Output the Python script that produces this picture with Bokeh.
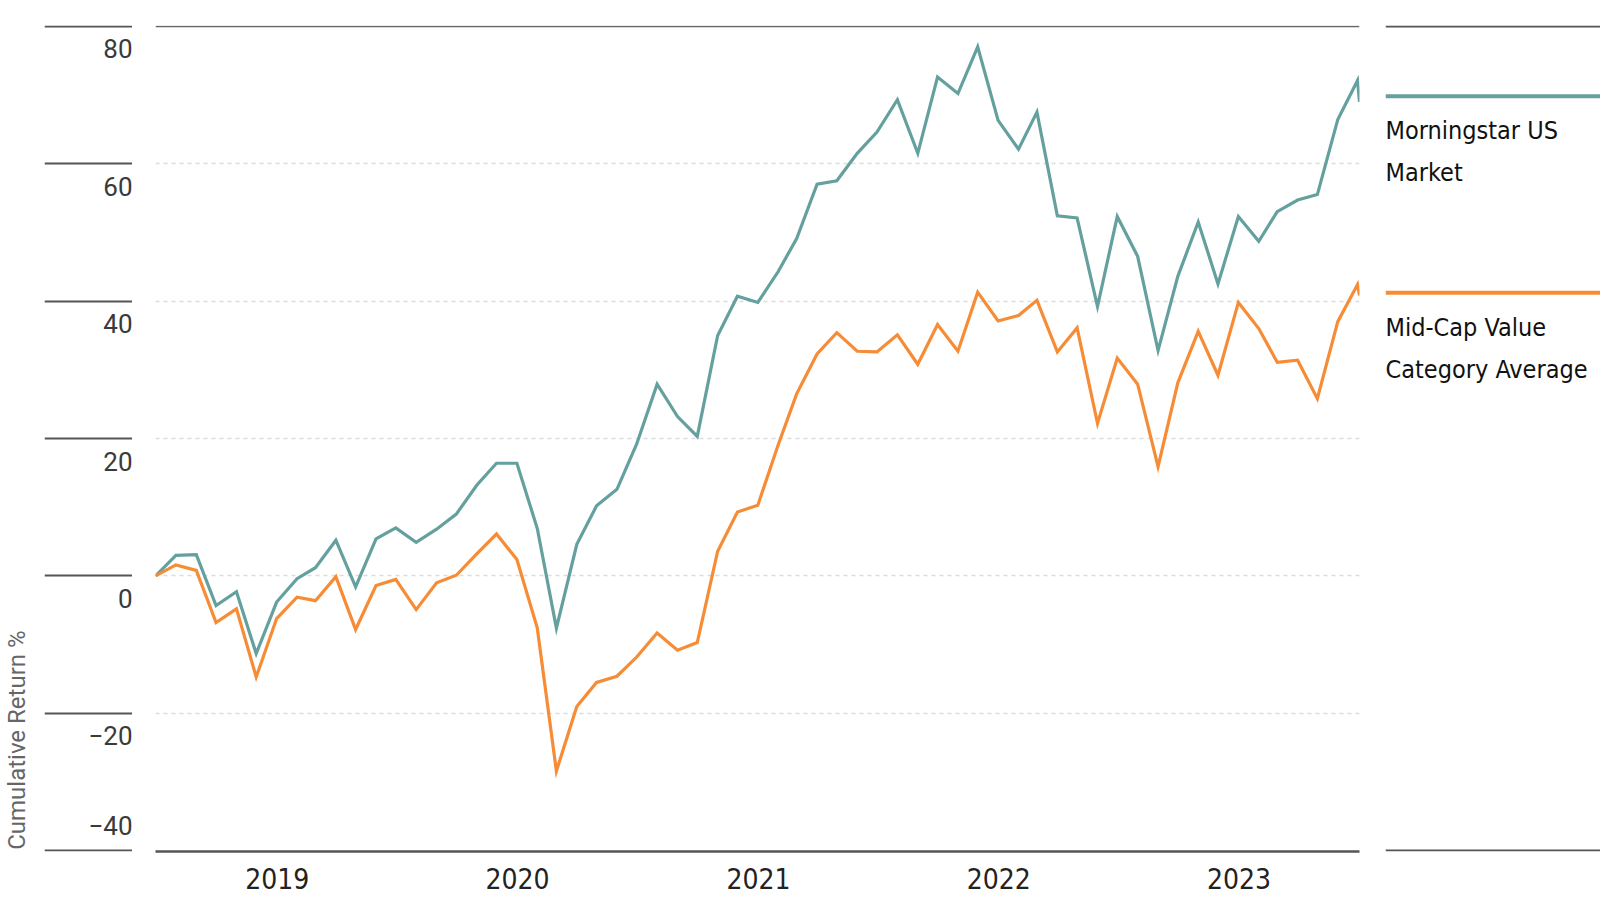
import pandas as pd
from bokeh.plotting import figure
from bokeh.layouts import row
from bokeh.models import Range1d, FixedTicker, Grid, Span, ColumnDataSource, DatetimeTickFormatter
from bokeh.core.properties import value
from bokeh.embed import file_html
from bokeh.resources import INLINE

# ---------------- data ----------------
dates = list(pd.date_range("2018-06-30", periods=61, freq="ME")) + [pd.Timestamp("2023-07-03")]

market = [0.0, 3.0, 3.1, -4.3, -2.3, -11.3, -3.8, -0.4, 1.2, 5.2,
          -1.6, 5.4, 7.0, 4.9, 6.8, 9.0, 13.2, 16.4, 16.4, 6.9,
          -7.6, 4.6, 10.2, 12.6, 19.2, 27.9, 23.2, 20.3, 35.0, 40.7,
          39.8, 44.3, 49.1, 57.0, 57.5, 61.5, 64.6, 69.3, 61.5, 72.6,
          70.2, 77.0, 66.3, 62.1, 67.5, 52.4, 52.1, 39.2, 52.3, 46.5,
          32.8, 43.6, 51.5, 42.5, 52.3, 48.7, 53.0, 54.7, 55.5, 66.4,
          72.1, 69.0]

midcap_value = [0.0, 1.6, 0.8, -6.8, -4.8, -14.7, -6.2, -3.1, -3.6, -0.1,
                -7.8, -1.4, -0.5, -4.9, -1.0, 0.1, 3.2, 6.1, 2.4, -7.6,
                -28.4, -19.0, -15.5, -14.6, -11.8, -8.3, -10.8, -9.7, 3.6, 9.3,
                10.3, 19.1, 26.5, 32.3, 35.4, 32.7, 32.6, 35.1, 30.8, 36.6,
                32.7, 41.3, 37.1, 37.9, 40.1, 32.6, 36.1, 22.2, 31.7, 27.9,
                15.9, 28.1, 35.6, 29.2, 39.8, 36.0, 31.1, 31.4, 25.8, 37.0,
                42.4, 40.8]

series_names = ["Morningstar US\nMarket", "Mid-Cap Value\nCategory Average"]
series_colors = ["#64a09e", "#f68c36"]

y_ticks = [80, 60, 40, 20, 0, -20, -40]
y_tick_labels = ["80", "60", "40", "20", "0", "\u221220", "\u221240"]
x_years = [2019, 2020, 2021, 2022, 2023]
y_title = "Cumulative Return %"

# legend anchor levels (layout)
legend_levels = [69.8, 41.2]

COND_S = "'DejaVu Sans Condensed', 'Roboto', sans-serif"
COND = value(COND_S)
REG = value("Roboto")

yr = Range1d(-40.1, 80.1)
TOP, BOTTOM, FH = 25, 51, 826

common = dict(toolbar_location=None, output_backend="svg", y_range=yr,
              min_border_top=TOP, min_border_bottom=BOTTOM, frame_height=FH,
              x_axis_location=None, y_axis_location=None,
              outline_line_color=None, background_fill_color="white", border_fill_color="white")

# ---------------- title strip ----------------
pt = figure(frame_width=44, x_range=Range1d(0, 1), min_border_left=0, min_border_right=0, **common)
pt.grid.visible = False
pt.text(x=[0.38], y=[y_ticks[-1]], text=[y_title], angle=90, angle_units="deg",
        text_align="left", text_baseline="middle", y_offset=-1,
        text_font=REG, text_font_size="24px", text_color="#666666")

# ---------------- left panel: tick rules + labels ----------------
pl = figure(frame_width=88, x_range=Range1d(0, 1), min_border_left=0, min_border_right=0, **common)
pl.grid.visible = False
pl.add_layout(Grid(dimension=1, ticker=FixedTicker(ticks=y_ticks),
                   grid_line_color="#555555", grid_line_width=2))

lab_src = ColumnDataSource(dict(x=[pl.x_range.end] * (len(y_ticks) - 1),
                                y=y_ticks[:-1], t=y_tick_labels[:-1]))
pl.text(x="x", y="y", text="t", source=lab_src, text_align="right", text_baseline="top",
        y_offset=13, text_font=REG, text_font_size="26px", text_color="#3a3a3a")
low_src = ColumnDataSource(dict(x=[pl.x_range.end], y=y_ticks[-1:], t=y_tick_labels[-1:]))
pl.text(x="x", y="y", text="t", source=low_src, text_align="right", text_baseline="bottom",
        y_offset=-16, text_font=REG, text_font_size="26px", text_color="#3a3a3a")

# ---------------- main plot ----------------
src = ColumnDataSource(dict(date=dates, market=market, mcv=midcap_value))
main_kw = dict(common)
main_kw.pop("x_axis_location")
p = figure(frame_width=1204, x_axis_type="datetime", x_range=Range1d(dates[0], dates[-1]),
           min_border_left=23, min_border_right=26, **main_kw)
p.grid.visible = False
p.add_layout(Grid(dimension=1, ticker=FixedTicker(ticks=[t for t in y_ticks if -40 < t < 80]),
                  grid_line_color="#dcdcdc", grid_line_width=1.5, grid_line_dash="4 4"))
p.add_layout(Grid(dimension=1, ticker=FixedTicker(ticks=[y_ticks[0]]),
                  grid_line_color="#666666", grid_line_width=1.5))

p.line(x="date", y="market", source=src, line_color=series_colors[0], line_width=3.2, line_join="miter")
p.line(x="date", y="mcv", source=src, line_color=series_colors[1], line_width=3.2, line_join="miter")

xa = p.xaxis[0]
xa.ticker = FixedTicker(ticks=[pd.Timestamp(f"{y}-01-01").value / 1e6 for y in x_years])
xa.formatter = DatetimeTickFormatter(years="%Y", months="%Y", days="%Y", hours="%Y")
xa.major_tick_line_color = None
xa.minor_tick_line_color = None
xa.major_tick_out = 0
xa.major_tick_in = 0
xa.axis_line_color = "#555555"
xa.axis_line_width = 2.5
xa.major_label_standoff = 16
xa.major_label_text_font = COND_S
xa.major_label_text_font_size = "28px"
xa.major_label_text_color = "#222222"

# ---------------- right panel: legend ----------------
pr = figure(frame_width=215, x_range=Range1d(0, 1), min_border_left=0, min_border_right=0, **common)
pr.grid.visible = False
pr.add_layout(Grid(dimension=1, ticker=FixedTicker(ticks=[y_ticks[0], y_ticks[-1]]),
                   grid_line_color="#555555", grid_line_width=2))
for lvl, col in zip(legend_levels, series_colors):
    pr.add_layout(Span(location=lvl, dimension="width", line_color=col, line_width=4))
leg_src = ColumnDataSource(dict(x=[pr.x_range.start] * 2, y=legend_levels, t=series_names))
pr.text(x="x", y="y", text="t", source=leg_src, text_align="left", text_baseline="top",
        y_offset=20, text_font=COND, text_font_size="25px", text_color="#111111",
        text_line_height=1.44)

layout = row(pt, pl, p, pr)
open("out.html", "w").write(file_html(layout, INLINE))
